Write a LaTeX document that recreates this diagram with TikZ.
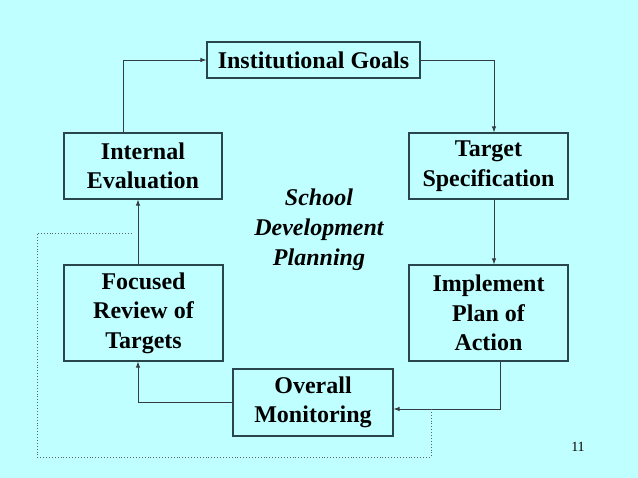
\documentclass[tikz,border=0pt]{standalone}
\usepackage{fontspec}
\setmainfont{Liberation Serif}
\usetikzlibrary{arrows.meta,calc}
\definecolor{bg}{RGB}{192,255,255}
\definecolor{boxline}{RGB}{40,70,75}
\definecolor{conn}{RGB}{50,60,65}
\tikzset{
  box/.style={draw=boxline,line width=1.1pt,align=center,inner sep=0pt,
    font=\fontsize{24}{29.5}\selectfont\bfseries},
  conn/.style={draw=conn,line width=0.9pt,-{Latex[length=6pt,width=4.5pt]}},
  dots/.style={draw=conn!80,line width=0.9pt,dotted}
}
\begin{document}
\begin{tikzpicture}[x=1pt,y=-1pt]
\fill[bg] (0,0) rectangle (638,478);
\useasboundingbox (0,0) rectangle (638,478);
\node[box,minimum width=213pt,minimum height=36pt] (ig) at (313.5,60) {Institutional Goals};
\node[box,minimum width=158pt,minimum height=66pt] (ie) at (143,166) {Internal\\Evaluation};
\node[box,minimum width=159pt,minimum height=66pt] (ts) at (488.5,166) {Target\\Specification};
\node[box,minimum width=159pt,minimum height=96pt] (fr) at (143.5,313) {Focused\\Review of\\Targets};
\node[box,minimum width=159pt,minimum height=96pt] (ip) at (488.5,313) {Implement\\Plan of\\Action};
\node[box,minimum width=160pt,minimum height=67pt] (om) at (313,402.5) {Overall\\Monitoring};
\node[align=center,font=\fontsize{24}{30}\selectfont\bfseries\itshape] (sdp) at (319,230) {School\\Development\\Planning};
\node[font=\fontsize{14}{16}\selectfont] (pg) at (578,447) {11};
% connectors
\coordinate (iptop) at ($(ip.south)+(11.5,0)$);
\coordinate (omin) at ($(om.east)+(0,6.5)$);
\coordinate (dstart) at (431,409);
\coordinate (dend) at (133,233);
\draw[conn] ($(ie.north)+(-20,0)$) |- (ig.west);
\draw[conn] (ig.east) -| ($(ts.north)+(5.5,0)$);
\draw[conn] ($(ts.south)+(5.5,0)$) -- ($(ip.north)+(5.5,0)$);
\draw[conn] (iptop) |- (omin);
\draw[conn] (om.west) -| ($(fr.south)+(-5.5,0)$);
\draw[conn] ($(fr.north)+(-5.5,0)$) -- ($(ie.south)+(-5,0)$);
\draw[dots] (dstart) -- (431,457) -- (37,457) -- (37,233) -- (dend);
\end{tikzpicture}
\end{document}
